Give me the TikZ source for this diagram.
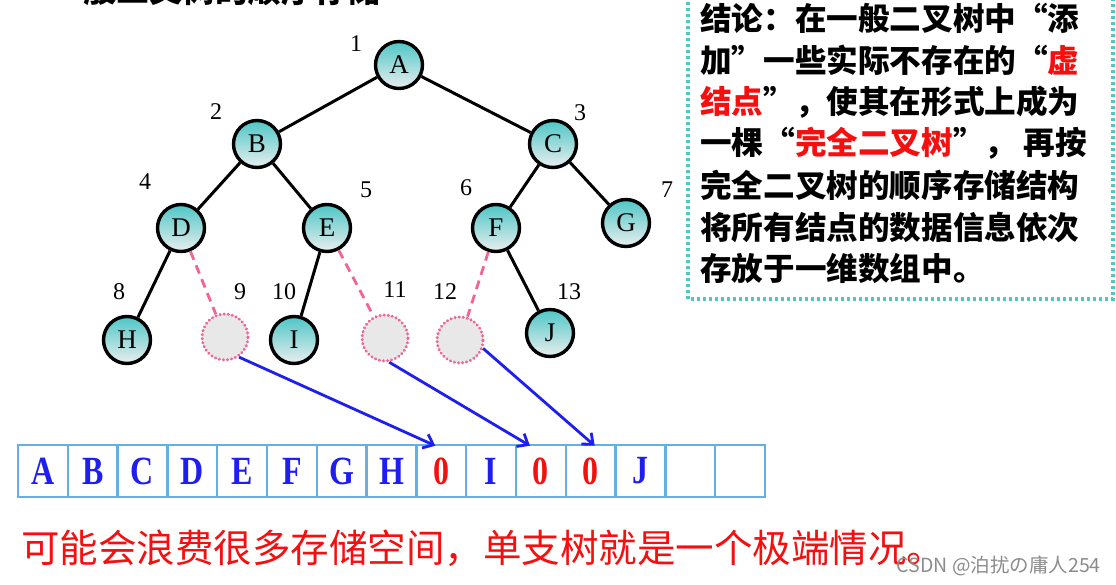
\documentclass[tikz,border=0pt]{standalone}
\usepackage{fontspec}
\setmainfont{Liberation Serif}
\newfontfamily\cjk{Noto Sans CJK SC}
\usetikzlibrary{arrows.meta}
\definecolor{nodetop}{RGB}{78,198,198}
\definecolor{nodebot}{RGB}{234,238,238}
\definecolor{pinkd}{RGB}{240,100,150}
\definecolor{virtfill}{RGB}{232,232,232}
\definecolor{arrblue}{RGB}{30,30,240}
\definecolor{cellblue}{RGB}{100,176,228}
\definecolor{panelc}{RGB}{78,200,192}
\definecolor{txtred}{RGB}{245,15,15}
\begin{document}
\begin{tikzpicture}[x=1pt,y=-1pt,
  tnode/.style={circle, draw=black, line width=3.4pt, minimum size=47pt, inner sep=0pt,
    top color=nodetop, bottom color=nodebot, font=\fontsize{27}{27}\selectfont},
  vnode/.style={circle, draw=pinkd, line width=3.2pt, dash pattern=on 0.1pt off 4pt,
    line cap=round, minimum size=46pt, inner sep=0pt, fill=virtfill},
  num/.style={font=\fontsize{24}{24}\selectfont, inner sep=0pt},
  edge/.style={line width=3pt},
  vedge/.style={draw=pinkd, line width=2.8pt, dash pattern=on 9pt off 6pt},
  ptr/.style={draw=arrblue, line width=2.8pt,
    -{Straight Barb[length=9pt,width=15pt,line width=2.8pt]}},
  cell/.style={draw=cellblue, line width=2.5pt, minimum width=49.8pt, minimum height=52pt,
    inner sep=0pt, font=\fontsize{40}{40}\selectfont\bfseries, text=arrblue},
  ptxt/.style={anchor=west, inner sep=0pt, font=\cjk\bfseries\fontsize{31.6}{31.6}\selectfont}
]
\useasboundingbox (0,0) rectangle (1116,585);
\fill[white] (0,0) rectangle (1116,585);

% clipped title at the top edge
\begin{scope}
\clip (0,0) rectangle (1116,9);
\node[anchor=base west, inner sep=0pt, font=\cjk\bfseries\fontsize{33}{33}\selectfont] (title) at (50,3) {一般二叉树的顺序存储};
\end{scope}

% tree nodes
\node[tnode] (A) at (399,65) {A};
\node[tnode] (B) at (257,144) {B};
\node[tnode] (C) at (553,144) {C};
\node[tnode] (D) at (181,228) {D};
\node[tnode] (E) at (327,228) {E};
\node[tnode] (F) at (496,228) {F};
\node[tnode] (G) at (626,223) {G};
\node[tnode] (H) at (127,340) {H};
\node[vnode] (v9) at (225,337) {};
\node[tnode] (I) at (294,340) {I};
\node[vnode] (v11) at (385,338) {};
\node[vnode] (v12) at (460,340) {};
\node[tnode] (J) at (550,333) {J};

% numbers
\node[num] (n1) at (356,44) {1};
\node[num] (n2) at (216,112) {2};
\node[num] (n3) at (580,113) {3};
\node[num] (n4) at (145,182) {4};
\node[num] (n5) at (366,190) {5};
\node[num] (n6) at (466,188) {6};
\node[num] (n7) at (667,190) {7};
\node[num] (n8) at (119,292) {8};
\node[num] (n9) at (240,292) {9};
\node[num] (n10) at (284,292) {10};
\node[num] (n11) at (395,290) {11};
\node[num] (n12) at (445,292) {12};
\node[num] (n13) at (569,292) {13};

% edges
\draw[edge] (A) -- (B);
\draw[edge] (A) -- (C);
\draw[edge] (B) -- (D);
\draw[edge] (B) -- (E);
\draw[edge] (C) -- (F);
\draw[edge] (C) -- (G);
\draw[edge] (D) -- (H);
\draw[edge] (E) -- (I);
\draw[edge] (F) -- (J);
\draw[vedge] (D) -- (v9);
\draw[vedge] (E) -- (v11);
\draw[vedge] (F) -- (v12);

% array
\foreach \t [count=\i] in {A,B,C,D,E,F,G,H,{\color{txtred}0},I,{\color{txtred}0},{\color{txtred}0},J,{},{}}
  \node[cell] (c\i) at ({18+49.8*(\i-0.5)},471) {\scalebox{0.8}[1]{\t}};

% pointers
\draw[ptr] (v9.-55) -- ([xshift=-6pt,yshift=-2pt]c9.north);
\draw[ptr] (v11.-80) -- ([xshift=-11pt,yshift=-2pt]c11.north);
\draw[ptr] (v12.-20) -- ([xshift=4pt,yshift=-2pt]c12.north);

% right panel
\draw[panelc, line width=3.2pt, dash pattern=on 3pt off 3pt] (688,-10) rectangle (1113,299);
\node[ptxt] (p1) at (700,18) {结论：在一般二叉树中“添};
\node[ptxt] (p2) at (700,60) {加”一些实际不存在的“{\color{txtred}虚}};
\node[ptxt] (p3) at (700,102) {{\color{txtred}结点}”，使其在形式上成为};
\node[ptxt] (p4) at (700,143) {一棵“{\color{txtred}完全二叉树}”， 再按};
\node[ptxt] (p5) at (700,185) {完全二叉树的顺序存储结构};
\node[ptxt] (p6) at (700,227) {将所有结点的数据信息依次};
\node[ptxt] (p7) at (700,268) {存放于一维数组中。};

% bottom note
\node[anchor=west, inner sep=0pt, text=txtred, font=\cjk\fontsize{38.5}{38.5}\selectfont] (note) at (21,548) {可能会浪费很多存储空间，单支树就是一个极端情况。};

% watermark
\node[anchor=east, inner sep=0pt, text=black!45, font=\cjk\fontsize{19.5}{19.5}\selectfont] (wm) at (1101,566) {CSDN @泊扰の庸人254};
\end{tikzpicture}
\end{document}
